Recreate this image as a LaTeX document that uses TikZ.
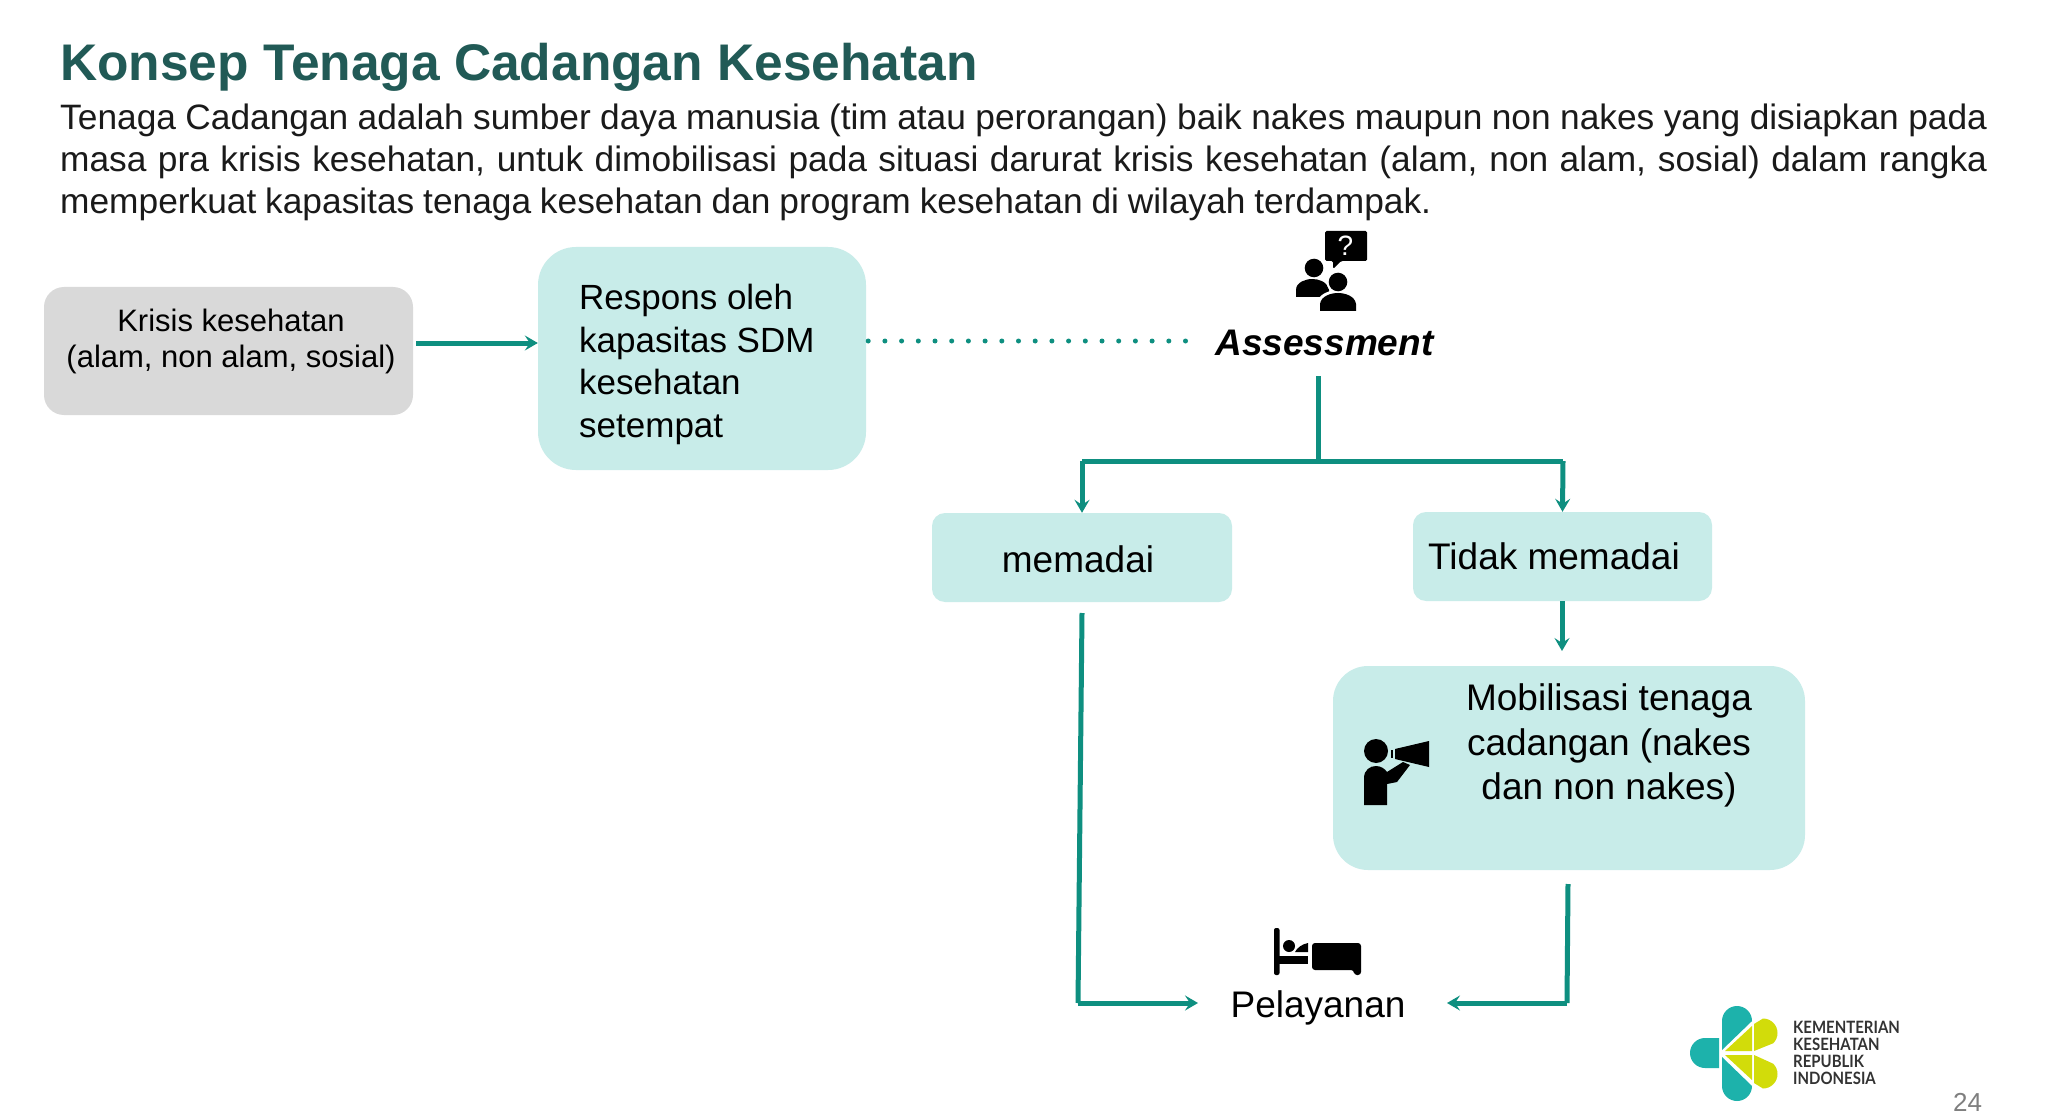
\documentclass[tikz,border=0pt]{standalone}
\usepackage{fontspec}
\setmainfont{Liberation Sans}
\newfontfamily\logofont[FakeStretch=0.88]{Lato}
\usetikzlibrary{arrows.meta}
\definecolor{titlecol}{HTML}{215A56}
\definecolor{bodycol}{HTML}{1A1A1A}
\definecolor{boxteal}{HTML}{C8ECE9}
\definecolor{boxgrey}{HTML}{D9D9D9}
\definecolor{linkcol}{HTML}{0E8F80}
\definecolor{logoteal}{HTML}{1DB2AB}
\definecolor{logoyel}{HTML}{D2DC0A}
\definecolor{logotxt}{HTML}{333333}
\definecolor{pagecol}{HTML}{7F7F7F}
\tikzset{
  panel/.style={draw=none,fill=boxteal,inner sep=0pt},
  label36/.style={inner sep=0pt,text=black,font=\fontsize{35}{42.7}\selectfont},
  label37/.style={inner sep=0pt,text=black,font=\fontsize{37}{44.5}\selectfont},
  bodyline/.style={inner sep=0pt,anchor=base west,text=bodycol,font=\fontsize{35.3}{42.7}\selectfont},
  logoline/.style={inner sep=0pt,anchor=base west,text=logotxt,font=\logofont\bfseries\fontsize{17}{17}\selectfont},
  link/.style={draw=linkcol,line width=5pt},
  linkarrow/.style={draw=linkcol,line width=5pt,-{Stealth[length=13pt,width=15pt,inset=5pt]}},
}
\begin{document}
\begin{tikzpicture}[x=1pt,y=-1pt]
\useasboundingbox (0,0) rectangle (2048,1115);
\fill[white] (0,0) rectangle (2048,1115);

% heading
\node[inner sep=0pt,anchor=base west,text=titlecol,font=\bfseries\fontsize{51.5}{60}\selectfont] (title) at (60,81) {Konsep Tenaga Cadangan Kesehatan};
\node[bodyline] (body1) at (60,130) {\makebox[1927pt][s]{Tenaga Cadangan adalah sumber daya manusia (tim atau perorangan) baik nakes maupun non nakes yang disiapkan pada}};
\node[bodyline] (body2) at (60,172) {\makebox[1927pt][s]{masa pra krisis kesehatan, untuk dimobilisasi pada situasi darurat krisis kesehatan (alam, non alam, sosial) dalam rangka}};
\node[bodyline] (body3) at (60,214) {\makebox[1371pt][s]{memperkuat kapasitas tenaga kesehatan dan program kesehatan di wilayah terdampak.}};

% boxes
\node[draw=none,fill=boxgrey,inner sep=0pt,minimum width=369pt,minimum height=128pt,rounded corners=20pt] (krisis) at (228.5,351) {};
\node[panel,minimum width=328pt,minimum height=223pt,rounded corners=38pt] (respons) at (702,358.5) {};
\node[panel,minimum width=300pt,minimum height=89pt,rounded corners=13pt] (memadai) at (1082,557.5) {};
\node[panel,minimum width=299pt,minimum height=89pt,rounded corners=13pt] (tidak) at (1562.5,556.5) {};
\node[panel,minimum width=472pt,minimum height=204pt,rounded corners=35pt] (mobil) at (1569,768) {};

% box texts
\node[inner sep=0pt,text=black,align=center,font=\fontsize{31}{36.5}\selectfont] (kristext) at (231,341.5) {Krisis kesehatan\\(alam, non alam, sosial)};
\node[label36,align=left,anchor=west] (restext) at (579,364.5) {Respons oleh\\kapasitas SDM\\kesehatan\\setempat};
\node[label37] (memtext) at (1078,559) {memadai};
\node[label37] (tidtext) at (1554,556) {Tidak memadai};
\node[label37,align=center] (mobtext) at (1609,745.5) {Mobilisasi tenaga\\cadangan (nakes\\dan non nakes)};
\node[inner sep=0pt,anchor=base,text=black,font=\bfseries\itshape\fontsize{37}{42}\selectfont] (assess) at (1324.5,355) {Assessment};
\node[label37,anchor=base] (pelayanan) at (1318,1017) {Pelayanan};

% connectors
\coordinate (kout) at (416,343);
\coordinate (asdot) at (1188,341);
\coordinate (astop) at (1318,376);
\coordinate (split) at (1318,461);
\coordinate (mleft) at (1082,461);
\coordinate (mright) at (1563,461);
\coordinate (mbot) at (1082,613);
\coordinate (mcorner) at (1078,1003);
\coordinate (ptipl) at (1198,1003);
\coordinate (tbot) at (1562,601);
\coordinate (mobtip) at (1562,651);
\coordinate (mobbot) at (1568,884);
\coordinate (rcorner) at (1567,1003);
\coordinate (ptipr) at (1447,1003);

\draw[linkarrow] (kout) -- (respons.west |- kout);
\draw[draw=linkcol,line width=5pt,line cap=round,dash pattern=on 0pt off 16.7pt] ([xshift=2pt]respons.east |- asdot) -- (asdot);
\draw[link] (astop) -- (split);
\draw[link,line cap=square] (mleft) -- (mright);
\draw[linkarrow] (mleft) -- (memadai.north);
\draw[linkarrow] (mright) -- (tidak.north);
\draw[linkarrow] (tbot) -- (mobtip);
\draw[link,line cap=square] (mbot) -- (mcorner);
\draw[linkarrow] (mcorner) -- (ptipl);
\draw[link,line cap=square] (mobbot) -- (rcorner);
\draw[linkarrow] (rcorner) -- (ptipr);

% assessment icon
\fill[black,rounded corners=1.5pt] (1325,231) -- (1367,231) -- (1367,261) -- (1341,261) -- (1333,269) -- (1333,261) -- (1325,261) -- cycle;
\node[inner sep=0pt,text=white,font=\fontsize{28}{28}\selectfont] (qmark) at (1345.5,246) {?};
\fill[black] (1314,268) circle (9.3);
\fill[black] (1296,297) -- (1296,290) .. controls (1296,282) and (1306,279) .. (1312,279) .. controls (1318,279) and (1327,281) .. (1329,290) -- (1329,297) -- cycle;
\fill[white] (1338,282) circle (11.5);
\fill[white] (1317,313) -- (1317,303) .. controls (1318,294) and (1330,290) .. (1338,290) .. controls (1346,290) and (1358,294) .. (1359,303) -- (1359,313) -- cycle;
\fill[black] (1338,282) circle (9.3);
\fill[black] (1320,311) -- (1320,304) .. controls (1321,296) and (1331,293) .. (1338,293) .. controls (1345,293) and (1355,296) .. (1356,304) -- (1356,311) -- cycle;

% megaphone icon
\fill[black] (1376,751) circle (12);
\fill[black] (1364,805) -- (1364,778) .. controls (1364,770) and (1370,766) .. (1376,766) .. controls (1381,766) and (1385,769) .. (1387,772) -- (1403,762) -- (1410,765) -- (1397,782) -- (1387,784) -- (1387,805) -- cycle;
\fill[black] (1395,749) -- (1429,741) -- (1429,767) -- (1395,759) -- cycle;
\fill[black] (1391,749.5) rectangle (1393,758);

% bed icon
\fill[black,rounded corners=2pt] (1274,975) -- (1274,928) -- (1279.5,928) -- (1279.5,975) -- cycle;
\fill[black] (1279,956) rectangle (1308,964);
\fill[black] (1289,946) circle (6);
\fill[black] (1295,952) .. controls (1297,948) and (1302,944) .. (1308,943) -- (1308,952) -- cycle;
\fill[black,rounded corners=3pt] (1312,943) -- (1361,943) -- (1361,975) -- (1354,975) -- (1354,970) -- (1312,970) -- cycle;

% logo
\fill[logoteal] (1690,1053) arc[start angle=180,end angle=270,radius=15] -- (1719,1038) -- (1719,1068) -- (1705,1068) arc[start angle=90,end angle=180,radius=15] -- cycle;
\fill[logoteal] (1722,1050) -- (1722,1021) arc[start angle=180,end angle=360,radius=15] -- cycle;
\fill[logoteal] (1722,1057) -- (1752,1086) arc[start angle=0,end angle=180,radius=15] -- cycle;
\fill[logoyel] (1725,1051) -- (1752,1026) -- (1752,1051) -- cycle;
\fill[logoyel] (1754,1024) -- (1763,1018.5) arc[start angle=270,end angle=405,radius=14.5] -- (1754,1051) -- cycle;
\fill[logoyel] (1725,1055) -- (1752,1055) -- (1752,1080) -- cycle;
\fill[logoyel] (1754,1055) -- (1773.25,1063.75) arc[start angle=-45,end angle=90,radius=14.5] -- (1754,1083) -- cycle;
\node[logoline] (logo1) at (1793,1033) {KEMENTERIAN};
\node[logoline] (logo2) at (1793,1050) {KESEHATAN};
\node[logoline] (logo3) at (1793,1067) {REPUBLIK};
\node[logoline] (logo4) at (1793,1084) {INDONESIA};
\node[inner sep=0pt,anchor=base west,text=pagecol,font=\fontsize{26}{26}\selectfont] (pageno) at (1953,1111) {24};
\end{tikzpicture}
\end{document}
